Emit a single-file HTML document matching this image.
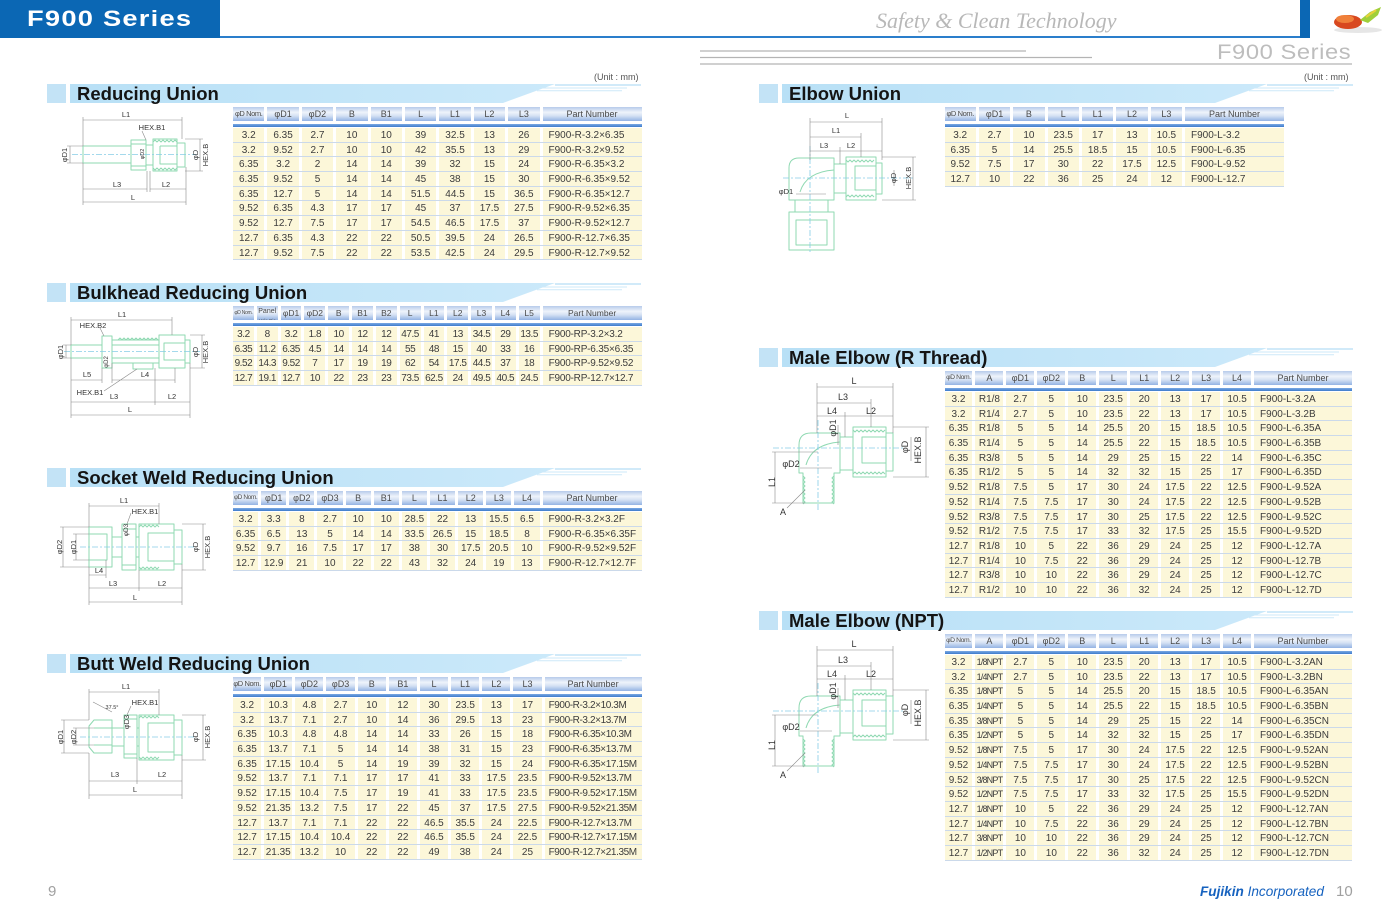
<!DOCTYPE html>
<html><head><meta charset="utf-8"><style>
*{margin:0;padding:0;box-sizing:border-box}
body{width:1400px;height:910px;position:relative;overflow:hidden;background:#fff;font-family:"Liberation Sans",Arial,sans-serif}
svg.bg{position:absolute;left:0;top:0}
.t{position:absolute;font-weight:bold;font-size:18.5px;line-height:21px;color:#141414;white-space:nowrap}
.tb{position:absolute}
.h,.r{display:flex;gap:3px}
.h{height:14px}
.h>div{flex:1 1 0;min-width:0;background:linear-gradient(#b7cbeb,#eef3fb 38%,#d6e2f4 62%,#93b3e3);font-size:9px;line-height:14px;color:#4a4a4a;text-align:center;white-space:nowrap;overflow:hidden}
.h>div:last-child{flex:0 0 99px}
.bar{height:3px;margin:3px 0 1px;background:linear-gradient(#7aa8e3,#3d7bcc)}
.r{height:14.7px;border-bottom:1px solid #cbd9ea;align-items:flex-start}
.r>div{flex:1 1 0;min-width:0;height:13.7px;background:#fcf7d9;font-size:10px;line-height:15.4px;color:#3c3c3c;text-align:center;white-space:nowrap}
.r>div:last-child{flex:0 0 99px;text-align:left;padding-left:6px}
.h>div.n{font-size:7.5px;letter-spacing:-0.4px}
.bk .h>div{font-size:8.5px}
.bk .h>div.n{font-size:5px;letter-spacing:-0.3px}
.bk .r>div{letter-spacing:-0.45px}
.bk .r>div:last-child{letter-spacing:-0.2px}
.bw .h>div:last-child,.bw .r>div:last-child{flex-basis:97px}
.bw .r>div:last-child{letter-spacing:-0.4px;padding-left:4px}
.me .h>div:last-child,.me .r>div:last-child{flex-basis:98px}
.me .h>div.n{font-size:6.8px}
.np .r>div:nth-child(2){font-size:9px;letter-spacing:-0.8px}
.unit{position:absolute;font-size:9px;color:#555;white-space:nowrap}
</style></head><body>
<svg class="bg" width="1400" height="910" viewBox="0 0 1400 910" font-family="Liberation Sans, Arial, sans-serif">
<defs>
<linearGradient id="bg1" x1="0" x2="1" y1="0" y2="0"><stop offset="0" stop-color="#b8e0f6"/><stop offset="1" stop-color="#cbe9fa"/></linearGradient>
<g id="tbL">
<rect x="47" y="84" width="19" height="19" fill="#c3e3f6"/>
<path d="M70,84H555L503,103H70Z" fill="url(#bg1)"/>
<path d="M555,85H641" stroke="#c2e3f7" stroke-width="1.6"/>
<path d="M541,88H627M537,90.8H622" stroke="#cde9f9" stroke-width="1"/>
</g>
</defs>
<!-- header -->
<rect x="0" y="0" width="220" height="38" fill="#0b67b4"/>
<rect x="220" y="36" width="1080" height="2" fill="#2a7ecb"/>
<rect x="1300" y="0" width="10" height="38" fill="#0b67b4"/>
<ellipse cx="1358" cy="30" rx="24" ry="3" fill="#e6e6e6"/>
<ellipse cx="1348" cy="22" rx="14" ry="7" fill="#d8481f"/>
<ellipse cx="1345" cy="19" rx="9" ry="4" fill="#f0803a"/>
<path d="M1360,20L1370,12L1381,7L1378,15L1368,23Z" fill="#9fcf3a"/>
<path d="M1366,17L1376,10" stroke="#e8d23a" stroke-width="2"/>
<text x="876" y="28" font-family="Liberation Serif, serif" font-style="italic" font-size="22" fill="#b8b8b8">Safety &amp; Clean Technology</text>
<path d="M700,51H1026M700,57.5H1092M700,64H1352" stroke="#b4b4b4" stroke-width="1.2"/>
<!-- title bars -->
<use href="#tbL"/>
<use href="#tbL" y="199"/>
<use href="#tbL" y="384"/>
<use href="#tbL" y="570"/>
<use href="#tbL" x="712"/>
<use href="#tbL" x="712" y="264"/>
<use href="#tbL" x="712" y="527"/>

<g stroke-width="1" stroke-linejoin="round">
<!-- ============ Reducing Union diagram ============ -->
<g stroke="#8fd9b2" fill="#fff">
<rect x="83" y="146" width="48" height="17"/>
<rect x="131" y="140" width="15" height="30"/>
<rect x="146" y="145" width="7" height="20"/>
<rect x="153" y="139" width="24" height="32"/>
<rect x="177" y="143" width="8" height="24"/>
</g>
<path stroke="#8fd9b2" fill="none" d="M131,144H146M131,166H146M160,146V164H177M160,146H177M153,142l2,-2 2,2 2,-2 2,2 2,-2 2,2 2,-2 2,2 2,-2 2,2 2,-2 2,2M153,168l2,2 2,-2 2,2 2,-2 2,2 2,-2 2,2 2,-2 2,2 2,-2 2,2 2,-2"/>
<path stroke="#86cde6" stroke-width="0.8" stroke-dasharray="6 2 2 2" fill="none" d="M72,154.5H196"/>
<path stroke="#8a8a8a" stroke-width="0.6" fill="none" d="M83,120H182M83,117V146M182,117V139M70,146V163M67,146H83M67,163H83M200,139V171M185,139H203M185,171H203M83,189H147M150,189H186M83,202H186M83,163V205M147,171V192M186,167V205M150,171V192M142,131L146,140"/>
<g font-size="7.5" fill="#333" text-anchor="middle">
<text x="126" y="117">L1</text>
<text x="152" y="130">HEX.B1</text>
<text transform="translate(144,154) rotate(-90)" font-size="5.5">φD2</text>
<text transform="translate(67,155) rotate(-90)">φD1</text>
<text transform="translate(198,155) rotate(-90)">φD</text>
<text transform="translate(208,155) rotate(-90)">HEX.B</text>
<text x="117" y="187">L3</text>
<text x="166" y="187">L2</text>
<text x="133" y="200">L</text>
</g>

<!-- ============ Bulkhead diagram ============ -->
<g stroke="#8fd9b2" fill="#fff">
<rect x="71" y="345" width="31" height="13"/>
<rect x="102" y="336" width="10" height="32"/>
<rect x="112" y="340" width="47" height="23"/>
<rect x="133" y="363" width="20" height="6"/>
<rect x="159" y="335" width="26" height="33"/>
<rect x="185" y="340" width="5" height="23"/>
</g>
<path stroke="#8fd9b2" fill="none" d="M118,340l2,-2 2,2 2,-2 2,2 2,-2 2,2 2,-2 2,2 2,-2 2,2 2,-2 2,2 2,-2 2,2 2,-2 2,2 2,-2 2,2 2,-2 2,2M164,343H185V360H164ZM112,345H159M112,358H159"/>
<path stroke="#86cde6" stroke-width="0.8" stroke-dasharray="6 2 2 2" fill="none" d="M64,351.5H200"/>
<path stroke="#8a8a8a" stroke-width="0.6" fill="none" d="M71,320H172M71,317V345M172,317V335M66,345V358M63,345H71M63,358H71M202,335V368M190,335H205M190,368H205M71,380H102M112,380H175M71,358V418M102,368V383M112,363V383M175,368V383M71,402H155M155,402H190M155,368V405M190,363V418M71,415H190M100,328L104,336M104,391L137,369"/>
<g font-size="7.5" fill="#333" text-anchor="middle">
<text x="122" y="317">L1</text>
<text x="93" y="328">HEX.B2</text>
<text transform="translate(63,352) rotate(-90)">φD1</text>
<text transform="translate(108,362) rotate(-90)" font-size="6">φD2</text>
<text transform="translate(198,352) rotate(-90)">φD</text>
<text transform="translate(208,352) rotate(-90)">HEX.B</text>
<text x="87" y="377">L5</text>
<text x="145" y="377">L4</text>
<text x="90" y="395">HEX.B1</text>
<text x="114" y="399">L3</text>
<text x="172" y="399">L2</text>
<text x="130" y="412">L</text>
</g>

<!-- ============ Socket weld diagram ============ -->
<g stroke="#8fd9b2" fill="#fff">
<rect x="89" y="527" width="23" height="40"/>
<rect x="112" y="537" width="10" height="20"/>
<rect x="122" y="524" width="14" height="46"/>
<rect x="136" y="537" width="3" height="20"/>
<rect x="139" y="524" width="35" height="46"/>
<rect x="174" y="530" width="8" height="34"/>
</g>
<path stroke="#8fd9b2" fill="none" d="M89,534H107V560H89M122,529H136M122,565H136M148,533H174V561H148ZM139,527l2,-2 2,2 2,-2 2,2 2,-2 2,2 2,-2 2,2 2,-2 2,2M139,567l2,2 2,-2 2,2 2,-2 2,2 2,-2 2,2 2,-2 2,2 2,-2"/>
<path stroke="#86cde6" stroke-width="0.8" stroke-dasharray="6 2 2 2" fill="none" d="M80,547H195"/>
<path stroke="#8a8a8a" stroke-width="0.6" fill="none" d="M89,506H159M89,503V527M159,503V524M63,527V567M60,527H89M60,567H89M76,534V560M73,534H89M73,560H89M203,524V570M182,524H206M182,570H206M89,575H106M106,560V578M89,588H139M139,588H182M139,570V591M182,564V605M89,567V605M89,602H182M131,513L127,524"/>
<g font-size="7.5" fill="#333" text-anchor="middle">
<text x="124" y="503">L1</text>
<text x="145" y="514">HEX.B1</text>
<text transform="translate(128,530) rotate(-90)" font-size="6.5">φD3</text>
<text transform="translate(62,547) rotate(-90)">φD2</text>
<text transform="translate(76,547) rotate(-90)">φD1</text>
<text transform="translate(198,547) rotate(-90)">φD</text>
<text transform="translate(210,547) rotate(-90)">HEX.B</text>
<text x="99" y="573">L4</text>
<text x="113" y="586">L3</text>
<text x="162" y="586">L2</text>
<text x="135" y="600">L</text>
</g>

<!-- ============ Butt weld diagram ============ -->
<g stroke="#8fd9b2" fill="#fff">
<path d="M89,726L94,720H112V753H94L89,747Z"/>
<rect x="112" y="728" width="12" height="18"/>
<rect x="124" y="715" width="13" height="43"/>
<rect x="137" y="728" width="2" height="18"/>
<rect x="139" y="715" width="35" height="45"/>
<rect x="174" y="720" width="8" height="35"/>
</g>
<path stroke="#8fd9b2" fill="none" d="M94,728H112M94,745H112M124,719H137M124,754H137M148,723H174V752H148ZM139,718l2,-2 2,2 2,-2 2,2 2,-2 2,2 2,-2 2,2 2,-2 2,2M139,757l2,2 2,-2 2,2 2,-2 2,2 2,-2 2,2 2,-2 2,2 2,-2"/>
<path stroke="#86cde6" stroke-width="0.8" stroke-dasharray="6 2 2 2" fill="none" d="M80,737H195"/>
<path stroke="#8a8a8a" stroke-width="0.6" fill="none" d="M89,692H159M89,689V720M159,689V715M64,720V753M61,720H89M61,753H89M76,728V745M73,728H94M73,745H94M203,715V760M182,715H206M182,760H206M89,781H137M137,781H182M137,758V784M182,755V799M89,753V799M89,795H182M93,702L112,712M131,706L127,715"/>
<g font-size="7.5" fill="#333" text-anchor="middle">
<text x="126" y="689">L1</text>
<text x="112" y="709" font-size="5.5">37.5°</text>
<text x="145" y="705">HEX.B1</text>
<text transform="translate(129,722) rotate(-90)">φD3</text>
<text transform="translate(63,737) rotate(-90)">φD1</text>
<text transform="translate(76,737) rotate(-90)">φD2</text>
<text transform="translate(198,737) rotate(-90)">φD</text>
<text transform="translate(210,737) rotate(-90)">HEX.B</text>
<text x="115" y="777">L3</text>
<text x="162" y="777">L2</text>
<text x="135" y="792">L</text>
</g>

<!-- ============ Elbow union diagram ============ -->
<g stroke="#8fd9b2" fill="#fff">
<path d="M789,168Q789,158 799,158H834V200H828V212H834V250H789V212H795V200H789Z"/>
<rect x="834" y="164" width="12" height="29"/>
<rect x="846" y="157" width="30" height="43"/>
<rect x="876" y="163" width="6" height="31"/>
</g>
<path stroke="#8fd9b2" fill="none" d="M855,166H876V190H855ZM796,220H827V245H796ZM800,192Q806,172 834,170M789,200H834M789,212H834M846,160l2,2 2,-2 2,2 2,-2 2,2 2,-2 2,2 2,-2 2,2 2,-2 2,2 2,-2 2,2 2,-2M846,197l2,-2 2,2 2,-2 2,2 2,-2 2,2 2,-2 2,2 2,-2 2,2 2,-2 2,2 2,-2 2,2"/>
<path stroke="#86cde6" stroke-width="0.8" stroke-dasharray="6 2 2 2" fill="none" d="M783,178H913M810,146V254"/>
<path stroke="#8a8a8a" stroke-width="0.6" fill="none" d="M810,122H882M810,137H861M810,151H840M840,151H882M810,118V160M882,118V160M861,133V157M840,147V164M796,194H826M913,157V200M882,157H916M882,200H916M894,170V186"/>
<g font-size="7.5" fill="#333" text-anchor="middle">
<text x="847" y="118">L</text>
<text x="836" y="133">L1</text>
<text x="824" y="148">L3</text>
<text x="851" y="148">L2</text>
<text x="786" y="194">φD1</text>
<text transform="translate(896,178) rotate(-90)">φD</text>
<text transform="translate(911,178) rotate(-90)">HEX.B</text>
</g>

<!-- ============ Male elbow R diagram ============ -->
<g id="me1">
<g stroke="#8fd9b2" fill="#fff">
<path d="M799,445Q799,433 811,433H840V473H834V503H803V473H799Z"/>
<rect x="840" y="437" width="13" height="33"/>
<rect x="853" y="427" width="33" height="50"/>
<rect x="886" y="433" width="7" height="38"/>
</g>
<path stroke="#8fd9b2" fill="none" d="M862,437H886V463H862ZM806,465Q812,444 840,442M853,430l2,2 2,-2 2,2 2,-2 2,2 2,-2 2,2 2,-2 2,2 2,-2 2,2 2,-2 2,2 2,-2 2,2 2,-2M853,474l2,-2 2,2 2,-2 2,2 2,-2 2,2 2,-2 2,2 2,-2 2,2 2,-2 2,2 2,-2 2,2 2,-2 2,2M803,476l2,2 -2,2 2,2 -2,2 2,2 -2,2 2,2 -2,2 2,2 -2,2 2,2 -2,2 2,2 -2,2M834,476l-2,2 2,2 -2,2 2,2 -2,2 2,2 -2,2 2,2 -2,2 2,2 -2,2 2,2 -2,2 2,2"/>
<path stroke="#86cde6" stroke-width="0.8" stroke-dasharray="6 2 2 2" fill="none" d="M773,448H904M818,420V510"/>
<path stroke="#8a8a8a" stroke-width="0.6" fill="none" d="M817,387H893M817,403H871M817,416H845M845,416H893M817,383V433M893,383V433M871,399V427M845,412V437M838,425V445M800,468H832M775,452V503M772,452H818M772,503H805M787,508L805,490M926,427V477M893,427H929M893,477H929M911,437V461"/>
</g>
<g font-size="9" fill="#333" text-anchor="middle">
<text x="854" y="384">L</text>
<text x="843" y="400">L3</text>
<text x="832" y="414">L4</text>
<text x="871" y="414">L2</text>
<text transform="translate(836,428) rotate(-90)">φD1</text>
<text x="791" y="467">φD2</text>
<text transform="translate(775,482) rotate(-90)">L1</text>
<text x="783" y="515">A</text>
<text transform="translate(908,447) rotate(-90)">φD</text>
<text transform="translate(921,450) rotate(-90)">HEX.B</text>
</g>
<!-- ============ Male elbow NPT diagram ============ -->
<use href="#me1" y="263"/>
<g font-size="9" fill="#333" text-anchor="middle">
<text x="854" y="647">L</text>
<text x="843" y="663">L3</text>
<text x="832" y="677">L4</text>
<text x="871" y="677">L2</text>
<text transform="translate(836,691) rotate(-90)">φD1</text>
<text x="791" y="730">φD2</text>
<text transform="translate(775,745) rotate(-90)">L1</text>
<text x="783" y="778">A</text>
<text transform="translate(908,710) rotate(-90)">φD</text>
<text transform="translate(921,713) rotate(-90)">HEX.B</text>
</g>
</g>

<!-- footer -->
<text x="48" y="896" font-size="15" fill="#a0a0a0">9</text>
<text x="1336" y="896" font-size="15" fill="#a0a0a0">10</text>
<text x="1200" y="896" font-size="13.6" fill="#1662bf" font-style="italic"><tspan font-weight="bold">Fujikin</tspan> Incorporated</text>
</svg>

<!-- header texts -->
<div style="position:absolute;left:27px;top:5px;font-weight:bold;font-size:22px;line-height:28px;color:#fff;letter-spacing:1px;transform:scaleX(1.24);transform-origin:0 0;white-space:nowrap">F900 Series</div>
<div style="position:absolute;left:1217px;top:40px;font-size:21px;line-height:26px;color:#bdbdbd;letter-spacing:0.5px;transform:scaleX(1.13);transform-origin:0 0;white-space:nowrap">F900 Series</div>

<div class="unit" style="left:594px;top:72px">(Unit : mm)</div>
<div class="unit" style="left:1304px;top:72px">(Unit : mm)</div>

<div class="t" style="left:77px;top:83px">Reducing Union</div>
<div class="t" style="left:77px;top:282px">Bulkhead Reducing Union</div>
<div class="t" style="left:77px;top:467px">Socket Weld Reducing Union</div>
<div class="t" style="left:77px;top:653px">Butt Weld Reducing Union</div>
<div class="t" style="left:789px;top:83px">Elbow Union</div>
<div class="t" style="left:789px;top:347px">Male Elbow (R Thread)</div>
<div class="t" style="left:789px;top:610px">Male Elbow (NPT)</div>

<!-- Reducing Union table -->
<div class="tb" style="left:233px;top:107px;width:408.5px">
<div class="h"><div class="n">φD Nom.</div><div>φD1</div><div>φD2</div><div>B</div><div>B1</div><div>L</div><div>L1</div><div>L2</div><div>L3</div><div>Part Number</div></div>
<div class="bar"></div>
<div class="r"><div>3.2</div><div>6.35</div><div>2.7</div><div>10</div><div>10</div><div>39</div><div>32.5</div><div>13</div><div>26</div><div>F900-R-3.2×6.35</div></div>
<div class="r"><div>3.2</div><div>9.52</div><div>2.7</div><div>10</div><div>10</div><div>42</div><div>35.5</div><div>13</div><div>29</div><div>F900-R-3.2×9.52</div></div>
<div class="r"><div>6.35</div><div>3.2</div><div>2</div><div>14</div><div>14</div><div>39</div><div>32</div><div>15</div><div>24</div><div>F900-R-6.35×3.2</div></div>
<div class="r"><div>6.35</div><div>9.52</div><div>5</div><div>14</div><div>14</div><div>45</div><div>38</div><div>15</div><div>30</div><div>F900-R-6.35×9.52</div></div>
<div class="r"><div>6.35</div><div>12.7</div><div>5</div><div>14</div><div>14</div><div>51.5</div><div>44.5</div><div>15</div><div>36.5</div><div>F900-R-6.35×12.7</div></div>
<div class="r"><div>9.52</div><div>6.35</div><div>4.3</div><div>17</div><div>17</div><div>45</div><div>37</div><div>17.5</div><div>27.5</div><div>F900-R-9.52×6.35</div></div>
<div class="r"><div>9.52</div><div>12.7</div><div>7.5</div><div>17</div><div>17</div><div>54.5</div><div>46.5</div><div>17.5</div><div>37</div><div>F900-R-9.52×12.7</div></div>
<div class="r"><div>12.7</div><div>6.35</div><div>4.3</div><div>22</div><div>22</div><div>50.5</div><div>39.5</div><div>24</div><div>26.5</div><div>F900-R-12.7×6.35</div></div>
<div class="r"><div>12.7</div><div>9.52</div><div>7.5</div><div>22</div><div>22</div><div>53.5</div><div>42.5</div><div>24</div><div>29.5</div><div>F900-R-12.7×9.52</div></div>
</div>

<!-- Bulkhead table -->
<div class="tb bk" style="left:233px;top:306px;width:408.5px">
<div class="h"><div class="n">φD Nom.</div><div style="line-height:6.5px;padding-top:1px"><span style="font-size:7px">Panel</span><br><span style="font-size:4.5px">Hole Dia</span></div><div>φD1</div><div>φD2</div><div>B</div><div>B1</div><div>B2</div><div>L</div><div>L1</div><div>L2</div><div>L3</div><div>L4</div><div>L5</div><div>Part Number</div></div>
<div class="bar"></div>
<div class="r"><div>3.2</div><div>8</div><div>3.2</div><div>1.8</div><div>10</div><div>12</div><div>12</div><div>47.5</div><div>41</div><div>13</div><div>34.5</div><div>29</div><div>13.5</div><div>F900-RP-3.2×3.2</div></div>
<div class="r"><div>6.35</div><div>11.2</div><div>6.35</div><div>4.5</div><div>14</div><div>14</div><div>14</div><div>55</div><div>48</div><div>15</div><div>40</div><div>33</div><div>16</div><div>F900-RP-6.35×6.35</div></div>
<div class="r"><div>9.52</div><div>14.3</div><div>9.52</div><div>7</div><div>17</div><div>19</div><div>19</div><div>62</div><div>54</div><div>17.5</div><div>44.5</div><div>37</div><div>18</div><div>F900-RP-9.52×9.52</div></div>
<div class="r"><div>12.7</div><div>19.1</div><div>12.7</div><div>10</div><div>22</div><div>23</div><div>23</div><div>73.5</div><div>62.5</div><div>24</div><div>49.5</div><div>40.5</div><div>24.5</div><div>F900-RP-12.7×12.7</div></div>
</div>

<!-- Socket Weld table -->
<div class="tb" style="left:233px;top:491px;width:408.5px">
<div class="h"><div class="n" style="font-size:6.5px">φD Nom.</div><div>φD1</div><div>φD2</div><div>φD3</div><div>B</div><div>B1</div><div>L</div><div>L1</div><div>L2</div><div>L3</div><div>L4</div><div>Part Number</div></div>
<div class="bar"></div>
<div class="r"><div>3.2</div><div>3.3</div><div>8</div><div>2.7</div><div>10</div><div>10</div><div>28.5</div><div>22</div><div>13</div><div>15.5</div><div>6.5</div><div>F900-R-3.2×3.2F</div></div>
<div class="r"><div>6.35</div><div>6.5</div><div>13</div><div>5</div><div>14</div><div>14</div><div>33.5</div><div>26.5</div><div>15</div><div>18.5</div><div>8</div><div>F900-R-6.35×6.35F</div></div>
<div class="r"><div>9.52</div><div>9.7</div><div>16</div><div>7.5</div><div>17</div><div>17</div><div>38</div><div>30</div><div>17.5</div><div>20.5</div><div>10</div><div>F900-R-9.52×9.52F</div></div>
<div class="r"><div>12.7</div><div>12.9</div><div>21</div><div>10</div><div>22</div><div>22</div><div>43</div><div>32</div><div>24</div><div>19</div><div>13</div><div>F900-R-12.7×12.7F</div></div>
</div>

<!-- Butt Weld table -->
<div class="tb bw" style="left:233px;top:677px;width:408.5px">
<div class="h"><div class="n">φD Nom.</div><div>φD1</div><div>φD2</div><div>φD3</div><div>B</div><div>B1</div><div>L</div><div>L1</div><div>L2</div><div>L3</div><div>Part Number</div></div>
<div class="bar"></div>
<div class="r"><div>3.2</div><div>10.3</div><div>4.8</div><div>2.7</div><div>10</div><div>12</div><div>30</div><div>23.5</div><div>13</div><div>17</div><div>F900-R-3.2×10.3M</div></div>
<div class="r"><div>3.2</div><div>13.7</div><div>7.1</div><div>2.7</div><div>10</div><div>14</div><div>36</div><div>29.5</div><div>13</div><div>23</div><div>F900-R-3.2×13.7M</div></div>
<div class="r"><div>6.35</div><div>10.3</div><div>4.8</div><div>4.8</div><div>14</div><div>14</div><div>33</div><div>26</div><div>15</div><div>18</div><div>F900-R-6.35×10.3M</div></div>
<div class="r"><div>6.35</div><div>13.7</div><div>7.1</div><div>5</div><div>14</div><div>14</div><div>38</div><div>31</div><div>15</div><div>23</div><div>F900-R-6.35×13.7M</div></div>
<div class="r"><div>6.35</div><div>17.15</div><div>10.4</div><div>5</div><div>14</div><div>19</div><div>39</div><div>32</div><div>15</div><div>24</div><div>F900-R-6.35×17.15M</div></div>
<div class="r"><div>9.52</div><div>13.7</div><div>7.1</div><div>7.1</div><div>17</div><div>17</div><div>41</div><div>33</div><div>17.5</div><div>23.5</div><div>F900-R-9.52×13.7M</div></div>
<div class="r"><div>9.52</div><div>17.15</div><div>10.4</div><div>7.5</div><div>17</div><div>19</div><div>41</div><div>33</div><div>17.5</div><div>23.5</div><div>F900-R-9.52×17.15M</div></div>
<div class="r"><div>9.52</div><div>21.35</div><div>13.2</div><div>7.5</div><div>17</div><div>22</div><div>45</div><div>37</div><div>17.5</div><div>27.5</div><div>F900-R-9.52×21.35M</div></div>
<div class="r"><div>12.7</div><div>13.7</div><div>7.1</div><div>7.1</div><div>22</div><div>22</div><div>46.5</div><div>35.5</div><div>24</div><div>22.5</div><div>F900-R-12.7×13.7M</div></div>
<div class="r"><div>12.7</div><div>17.15</div><div>10.4</div><div>10.4</div><div>22</div><div>22</div><div>46.5</div><div>35.5</div><div>24</div><div>22.5</div><div>F900-R-12.7×17.15M</div></div>
<div class="r"><div>12.7</div><div>21.35</div><div>13.2</div><div>10</div><div>22</div><div>22</div><div>49</div><div>38</div><div>24</div><div>25</div><div>F900-R-12.7×21.35M</div></div>
</div>

<!-- Elbow Union table -->
<div class="tb" style="left:944.5px;top:107px;width:339.5px">
<div class="h"><div class="n">φD Nom.</div><div>φD1</div><div>B</div><div>L</div><div>L1</div><div>L2</div><div>L3</div><div>Part Number</div></div>
<div class="bar"></div>
<div class="r"><div>3.2</div><div>2.7</div><div>10</div><div>23.5</div><div>17</div><div>13</div><div>10.5</div><div>F900-L-3.2</div></div>
<div class="r"><div>6.35</div><div>5</div><div>14</div><div>25.5</div><div>18.5</div><div>15</div><div>10.5</div><div>F900-L-6.35</div></div>
<div class="r"><div>9.52</div><div>7.5</div><div>17</div><div>30</div><div>22</div><div>17.5</div><div>12.5</div><div>F900-L-9.52</div></div>
<div class="r"><div>12.7</div><div>10</div><div>22</div><div>36</div><div>25</div><div>24</div><div>12</div><div>F900-L-12.7</div></div>
</div>

<!-- Male Elbow R table -->
<div class="tb me" style="left:944.5px;top:371px;width:407.5px">
<div class="h"><div class="n">φD Nom.</div><div>A</div><div>φD1</div><div>φD2</div><div>B</div><div>L</div><div>L1</div><div>L2</div><div>L3</div><div>L4</div><div>Part Number</div></div>
<div class="bar"></div>
<div class="r"><div>3.2</div><div>R1/8</div><div>2.7</div><div>5</div><div>10</div><div>23.5</div><div>20</div><div>13</div><div>17</div><div>10.5</div><div>F900-L-3.2A</div></div>
<div class="r"><div>3.2</div><div>R1/4</div><div>2.7</div><div>5</div><div>10</div><div>23.5</div><div>22</div><div>13</div><div>17</div><div>10.5</div><div>F900-L-3.2B</div></div>
<div class="r"><div>6.35</div><div>R1/8</div><div>5</div><div>5</div><div>14</div><div>25.5</div><div>20</div><div>15</div><div>18.5</div><div>10.5</div><div>F900-L-6.35A</div></div>
<div class="r"><div>6.35</div><div>R1/4</div><div>5</div><div>5</div><div>14</div><div>25.5</div><div>22</div><div>15</div><div>18.5</div><div>10.5</div><div>F900-L-6.35B</div></div>
<div class="r"><div>6.35</div><div>R3/8</div><div>5</div><div>5</div><div>14</div><div>29</div><div>25</div><div>15</div><div>22</div><div>14</div><div>F900-L-6.35C</div></div>
<div class="r"><div>6.35</div><div>R1/2</div><div>5</div><div>5</div><div>14</div><div>32</div><div>32</div><div>15</div><div>25</div><div>17</div><div>F900-L-6.35D</div></div>
<div class="r"><div>9.52</div><div>R1/8</div><div>7.5</div><div>5</div><div>17</div><div>30</div><div>24</div><div>17.5</div><div>22</div><div>12.5</div><div>F900-L-9.52A</div></div>
<div class="r"><div>9.52</div><div>R1/4</div><div>7.5</div><div>7.5</div><div>17</div><div>30</div><div>24</div><div>17.5</div><div>22</div><div>12.5</div><div>F900-L-9.52B</div></div>
<div class="r"><div>9.52</div><div>R3/8</div><div>7.5</div><div>7.5</div><div>17</div><div>30</div><div>25</div><div>17.5</div><div>22</div><div>12.5</div><div>F900-L-9.52C</div></div>
<div class="r"><div>9.52</div><div>R1/2</div><div>7.5</div><div>7.5</div><div>17</div><div>33</div><div>32</div><div>17.5</div><div>25</div><div>15.5</div><div>F900-L-9.52D</div></div>
<div class="r"><div>12.7</div><div>R1/8</div><div>10</div><div>5</div><div>22</div><div>36</div><div>29</div><div>24</div><div>25</div><div>12</div><div>F900-L-12.7A</div></div>
<div class="r"><div>12.7</div><div>R1/4</div><div>10</div><div>7.5</div><div>22</div><div>36</div><div>29</div><div>24</div><div>25</div><div>12</div><div>F900-L-12.7B</div></div>
<div class="r"><div>12.7</div><div>R3/8</div><div>10</div><div>10</div><div>22</div><div>36</div><div>29</div><div>24</div><div>25</div><div>12</div><div>F900-L-12.7C</div></div>
<div class="r"><div>12.7</div><div>R1/2</div><div>10</div><div>10</div><div>22</div><div>36</div><div>32</div><div>24</div><div>25</div><div>12</div><div>F900-L-12.7D</div></div>
</div>

<!-- Male Elbow NPT table -->
<div class="tb me np" style="left:944.5px;top:634px;width:407.5px">
<div class="h"><div class="n">φD Nom.</div><div>A</div><div>φD1</div><div>φD2</div><div>B</div><div>L</div><div>L1</div><div>L2</div><div>L3</div><div>L4</div><div>Part Number</div></div>
<div class="bar"></div>
<div class="r"><div>3.2</div><div>1/8NPT</div><div>2.7</div><div>5</div><div>10</div><div>23.5</div><div>20</div><div>13</div><div>17</div><div>10.5</div><div>F900-L-3.2AN</div></div>
<div class="r"><div>3.2</div><div>1/4NPT</div><div>2.7</div><div>5</div><div>10</div><div>23.5</div><div>22</div><div>13</div><div>17</div><div>10.5</div><div>F900-L-3.2BN</div></div>
<div class="r"><div>6.35</div><div>1/8NPT</div><div>5</div><div>5</div><div>14</div><div>25.5</div><div>20</div><div>15</div><div>18.5</div><div>10.5</div><div>F900-L-6.35AN</div></div>
<div class="r"><div>6.35</div><div>1/4NPT</div><div>5</div><div>5</div><div>14</div><div>25.5</div><div>22</div><div>15</div><div>18.5</div><div>10.5</div><div>F900-L-6.35BN</div></div>
<div class="r"><div>6.35</div><div>3/8NPT</div><div>5</div><div>5</div><div>14</div><div>29</div><div>25</div><div>15</div><div>22</div><div>14</div><div>F900-L-6.35CN</div></div>
<div class="r"><div>6.35</div><div>1/2NPT</div><div>5</div><div>5</div><div>14</div><div>32</div><div>32</div><div>15</div><div>25</div><div>17</div><div>F900-L-6.35DN</div></div>
<div class="r"><div>9.52</div><div>1/8NPT</div><div>7.5</div><div>5</div><div>17</div><div>30</div><div>24</div><div>17.5</div><div>22</div><div>12.5</div><div>F900-L-9.52AN</div></div>
<div class="r"><div>9.52</div><div>1/4NPT</div><div>7.5</div><div>7.5</div><div>17</div><div>30</div><div>24</div><div>17.5</div><div>22</div><div>12.5</div><div>F900-L-9.52BN</div></div>
<div class="r"><div>9.52</div><div>3/8NPT</div><div>7.5</div><div>7.5</div><div>17</div><div>30</div><div>25</div><div>17.5</div><div>22</div><div>12.5</div><div>F900-L-9.52CN</div></div>
<div class="r"><div>9.52</div><div>1/2NPT</div><div>7.5</div><div>7.5</div><div>17</div><div>33</div><div>32</div><div>17.5</div><div>25</div><div>15.5</div><div>F900-L-9.52DN</div></div>
<div class="r"><div>12.7</div><div>1/8NPT</div><div>10</div><div>5</div><div>22</div><div>36</div><div>29</div><div>24</div><div>25</div><div>12</div><div>F900-L-12.7AN</div></div>
<div class="r"><div>12.7</div><div>1/4NPT</div><div>10</div><div>7.5</div><div>22</div><div>36</div><div>29</div><div>24</div><div>25</div><div>12</div><div>F900-L-12.7BN</div></div>
<div class="r"><div>12.7</div><div>3/8NPT</div><div>10</div><div>10</div><div>22</div><div>36</div><div>29</div><div>24</div><div>25</div><div>12</div><div>F900-L-12.7CN</div></div>
<div class="r"><div>12.7</div><div>1/2NPT</div><div>10</div><div>10</div><div>22</div><div>36</div><div>32</div><div>24</div><div>25</div><div>12</div><div>F900-L-12.7DN</div></div>
</div>
</body></html>
